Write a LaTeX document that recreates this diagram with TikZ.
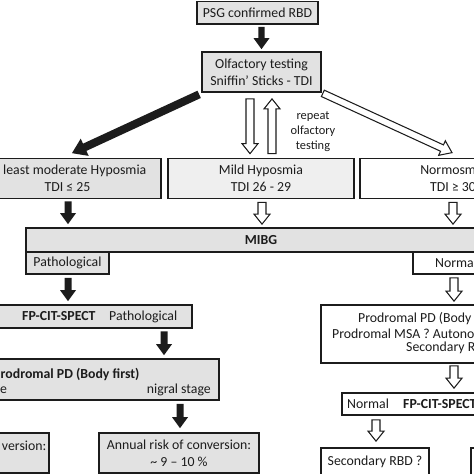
\documentclass[tikz,border=0pt]{standalone}
\usepackage{fontspec}
\setmainfont{Carlito}
\usetikzlibrary{calc}
\definecolor{boxgray}{RGB}{226,226,226}
\definecolor{palegray}{RGB}{239,239,239}
\definecolor{ink}{RGB}{28,28,28}
\newcommand\mainfs{\fontsize{13.8}{16.8}\selectfont}
\newcommand\smallfs{\fontsize{12.4}{15}\selectfont}
% #1 style, #2 from, #3 to, #4 half shaft, #5 half head, #6 head length
\newcommand\blockarrow[6]{%
  \coordinate (baA) at (#2);
  \coordinate (baB) at (#3);
  \coordinate (baH) at ($(baB)!#6!(baA)$);
  \path[#1] ($(baA)!#4!90:(baB)$) -- ($(baH)!#4!90:(baB)$) -- ($(baH)!#5!90:(baB)$)
    -- (baB) -- ($(baH)!#5!-90:(baB)$) -- ($(baH)!#4!-90:(baB)$) -- ($(baA)!#4!-90:(baB)$) -- cycle;
}
\begin{document}
\begin{tikzpicture}[x=1pt,y=-1pt,
  box/.style={draw=ink, line width=1.7pt, inner sep=0pt, align=center, font=\mainfs, text=ink},
  gbox/.style={box, fill=boxgray},
  pbox/.style={box, fill=palegray},
  wbox/.style={box, fill=white},
  txt/.style={inner sep=0pt, font=\mainfs, text=ink},
  solidarr/.style={fill=ink},
  hollowarr/.style={fill=white, draw=ink, line width=1.05pt, line join=miter}]
\useasboundingbox (0,0) rectangle (474,474);
\fill[white] (0,0) rectangle (474,474);

% boxes
\node[gbox, minimum width=121, minimum height=22.5] (psg) at (257.5,12.75) {PSG confirmed RBD};
\node[gbox, minimum width=119, minimum height=40] (olf) at (261.5,72) {Olfactory testing\\Sniffin’ Sticks - TDI};
\node[gbox, minimum width=186, minimum height=40] (hyp) at (68,178.5) {};
\node[pbox, minimum width=186, minimum height=40] (mild) at (261,178.5) {Mild Hyposmia\\TDI 26 - 29};
\node[wbox, minimum width=186, minimum height=40] (norm) at (453,178.5) {Normosmia\\TDI ≥ 30};
\node[gbox, minimum width=470, minimum height=24] (mibg) at (261,240) {\bfseries MIBG};
\node[gbox, minimum width=83, minimum height=22] (path) at (67.5,263) {Pathological};
\node[wbox, minimum width=86, minimum height=22] (normal) at (456,263) {Normal};
\node[gbox, minimum width=202, minimum height=23] (fpcit) at (91,316.5) {};
\node[wbox, minimum width=224, minimum height=58] (rprod) at (433,334) {};
\node[gbox, minimum width=229, minimum height=41] (prod) at (104.5,379.5) {};
\node[wbox, minimum width=158, minimum height=22] (rfp) at (421,404) {};
\node[gbox, minimum width=59, minimum height=40] (annl) at (19.5,453) {};
\node[gbox, minimum width=160, minimum height=40] (ann) at (179,453) {Annual risk of conversion:\\\textasciitilde{} 9 – 10 \%};
\node[wbox, minimum width=108, minimum height=27] (sec) at (375,461.5) {Secondary RBD ?};
\node[wbox, minimum width=30, minimum height=34] (secr) at (486,465) {};

% texts inside clipped boxes
\node[txt, anchor=west] (hyp1) at (3,171) {least moderate Hyposmia};
\node[txt] (hyp2) at (67.5,187) {TDI ≤ 25};
\node[txt, anchor=west, font=\mainfs\bfseries] (fp1) at (22,316.5) {FP-CIT-SPECT};
\node[txt, anchor=west] (fp2) at (109,316.5) {Pathological};
\node[txt, anchor=west, font=\mainfs\bfseries] (pr1) at (0.5,374) {rodromal PD (Body first)};
\node[txt, anchor=west] (pr2) at (0,390) {e};
\node[txt, anchor=east] (pr3) at (211,390) {nigral stage};
\node[txt, anchor=east] (an1) at (46.5,446) {version:};
\node[txt, anchor=west] (rp1) at (358,319) {Prodromal PD (Body};
\node[txt, anchor=west] (rp2) at (332,333.5) {Prodromal MSA ? Autono};
\node[txt, anchor=west] (rp3) at (406,348) {Secondary R};
\node[txt, anchor=west] (rf1) at (347,404) {Normal};
\node[txt, anchor=west, font=\mainfs\bfseries] (rf2) at (403,404) {FP-CIT-SPECT};
\node[txt, font=\smallfs, align=center] (rep) at (313,132) {repeat\\olfactory\\testing};

% arrows
\blockarrow{solidarr}{$(olf.north|-psg.south)+(0,2)$}{$(olf.north)+(0,-2)$}{3.2pt}{8pt}{11pt}
\blockarrow{solidarr}{$(olf.south west)+(-2,1.5)$}{$(hyp.north)+(4,-4.5)$}{4pt}{9.5pt}{14pt}
\blockarrow{hollowarr}{$(olf.south)+(-11.5,6)$}{$(mild.north)+(-11,-4)$}{4pt}{8pt}{10pt}
\blockarrow{hollowarr}{$(mild.north)+(11,-4)$}{$(olf.south)+(10.5,6)$}{4pt}{8pt}{10pt}
\blockarrow{hollowarr}{$(olf.south east)+(1,0.5)$}{$(norm.north)+(-1,-5)$}{3.5pt}{8pt}{11pt}
\blockarrow{solidarr}{$(hyp.south)+(0,2)$}{$(hyp.south|-mibg.north)+(0,-3)$}{3.5pt}{8pt}{11pt}
\blockarrow{hollowarr}{$(mild.south)+(1,3)$}{$(mild.south|-mibg.north)+(1,-3)$}{4pt}{8pt}{10pt}
\blockarrow{hollowarr}{$(norm.south)+(0,3)$}{$(norm.south|-mibg.north)+(0,-3)$}{4pt}{8pt}{10pt}
\blockarrow{solidarr}{$(path.south)+(0.5,3)$}{$(path.south|-fpcit.north)+(0.5,-3)$}{3.5pt}{8pt}{11pt}
\blockarrow{hollowarr}{$(normal.south)+(-2,3)$}{$(normal.south|-rprod.north)+(-2,-3)$}{4pt}{8pt}{10pt}
\blockarrow{solidarr}{$(fpcit.south)+(73,2.5)$}{$(fpcit.south|-prod.north)+(73,-3)$}{3.5pt}{8pt}{11pt}
\blockarrow{hollowarr}{$(rprod.south)+(21,2)$}{$(rprod.south|-rfp.north)+(21,-4)$}{4pt}{8pt}{10pt}
\blockarrow{solidarr}{$(prod.south)+(75.5,3)$}{$(prod.south|-ann.north)+(75.5,-4)$}{3.5pt}{8pt}{11pt}
\blockarrow{hollowarr}{$(rfp.south)+(-45,4)$}{$(rfp.south|-sec.north)+(-45,-6)$}{4pt}{8pt}{10pt}
\end{tikzpicture}
\end{document}
